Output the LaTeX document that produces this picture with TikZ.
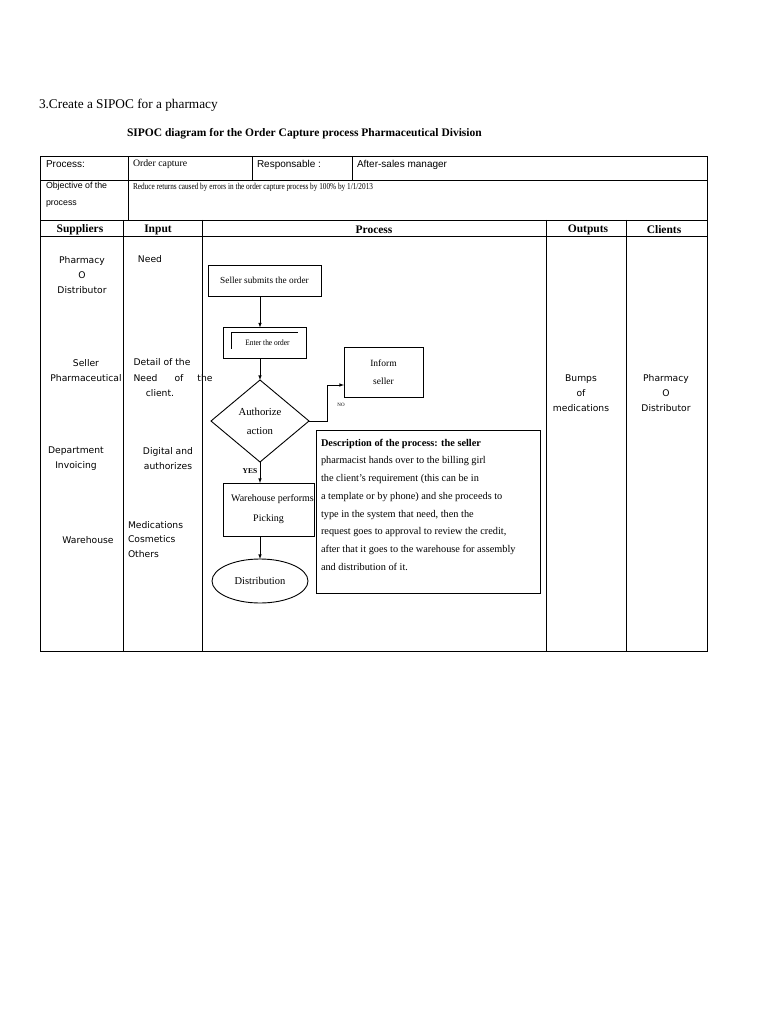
\documentclass[tikz,border=0pt]{standalone}
\usepackage{fontspec}
\usepackage{graphicx}
\setmainfont{Liberation Serif}
\newfontfamily\verdanafont{DejaVu Sans}
\newfontfamily\arialfont{Liberation Sans}
\usetikzlibrary{arrows,positioning,shapes}

\begin{document}
\begin{tikzpicture}
  [x=1pt,y=-1pt,
    every node/.style={inner sep=0pt,outer sep=0pt},
    grid/.style={line width=0.9pt},
    box/.style={rectangle,draw,line width=0.9pt,align=center,font=\fontsize{9}{12}\selectfont},
    cell/.style={align=center,font=\verdanafont\fontsize{9.2}{14.8}\selectfont},
    head/.style={font=\bfseries\fontsize{11.5}{12}\selectfont},
    info/.style={anchor=west,align=left,font=\arialfont\fontsize{10}{16.5}\selectfont},
    flow/.style={-latex,line width=0.6pt}]
  \useasboundingbox (0,0) rectangle (768,1024);
  % titles
  \node[anchor=west,font=\fontsize{13.3}{14}\selectfont] (task) at (39,105) {3.Create a SIPOC for a pharmacy};
  \node[anchor=west,font=\bfseries\fontsize{11.5}{13}\selectfont] (title) at (127,134) {SIPOC diagram for the Order Capture process Pharmaceutical Division};
  % table
  \draw[grid] (40.5,156.5) rectangle (707,651.5);
  \draw[grid] (40.5,180) -- (707,180);
  \draw[grid] (40.5,220) -- (707,220);
  \draw[grid] (40.5,236) -- (707,236);
  \draw[grid] (128.5,156.5) -- (128.5,220);
  \draw[grid] (252.5,156.5) -- (252.5,180);
  \draw[grid] (352,156.5) -- (352,180);
  \foreach \x in {123.5,202.5,546,626.5}
    \draw[grid] (\x,220) -- (\x,651.5);
  \node[info] (lproc) at (46,164.5) {Process:};
  \node[anchor=west,font=\fontsize{9.8}{12}\selectfont] (vproc) at (133,164.5) {Order capture};
  \node[info] (lresp) at (257,164.5) {Responsable :};
  \node[info] (vresp) at (357,164.5) {After-sales manager};
  \node[info,anchor=north west,font=\arialfont\fontsize{8.8}{16.5}\selectfont] (lobj) at (46,182.5) {Objective of the\\process};
  \node[anchor=west,font=\fontsize{9}{12}\selectfont] (vobj) at (133,187.5)
    {\resizebox{240pt}{\height}{Reduce returns caused by errors in the order capture process by 100\% by 1/1/2013}};
  % column heads
  \node[head] (hsup) at (80,229.5) {Suppliers};
  \node[head] (hinp) at (158,229.5) {Input};
  \node[head] (hproc) at (374,229.5) {Process};
  \node[head] (hout) at (588,229.5) {Outputs};
  \node[head] (hcli) at (664,229.5) {Clients};
  % suppliers
  \node[cell] (sup1) at (82,275) {Pharmacy\\O\\Distributor};
  \node[cell] (sup2) at (86,370.5) {Seller\\Pharmaceutical};
  \node[cell] (sup3) at (76,458.5) {Department\\Invoicing};
  \node[cell] (sup4) at (88,540) {Warehouse};
  % inputs
  \node[cell] (inp1) at (150,259) {Need};
  \node[cell] (inp2) at (162,362) {Detail of the};
  \node[cell,anchor=west] (inp3) at (133.5,378) {Need\hspace{17pt}of\hspace{14pt}the};
  \node[cell] (inp4) at (160,393) {client.};
  \node[cell] (inp5) at (168,458.5) {Digital and\\authorizes};
  \node[cell,anchor=west,align=left] (inp6) at (128,539.5) {Medications\\Cosmetics\\Others};
  % outputs and clients
  \node[cell] (out1) at (581,393) {Bumps\\of\\medications};
  \node[cell] (cli1) at (666,393) {Pharmacy\\O\\Distributor};
  % process flow
  \node[box,minimum width=113pt,minimum height=31pt,font=\fontsize{9.3}{10}\selectfont] (submit) at (264.5,280.5) {Seller submits the order};
  \node[box,minimum width=83pt,minimum height=31pt,font=\fontsize{8.2}{10}\selectfont] (enter) at (264.5,343) {\hspace{6pt}\scalebox{0.9}[1]{Enter the order}};
  \draw[line width=0.8pt] ([xshift=8pt,yshift=10pt]enter.south west) -- ([xshift=8pt,yshift=-4.5pt]enter.north west)
    -- ([xshift=-8pt,yshift=-4.5pt]enter.north east);
  \node[diamond,draw,line width=0.9pt,minimum width=98pt,minimum height=82pt,align=center,
    font=\fontsize{10.7}{19}\selectfont] (auth) at (260,421) {Authorize\\action};
  \node[box,minimum width=79pt,minimum height=50pt,font=\fontsize{9.5}{18}\selectfont] (inform) at (383.5,372) {Inform\\seller};
  \node[box,minimum width=91pt,minimum height=53pt,font=\fontsize{10}{20}\selectfont] (pick) at (268.5,509.5) {\hspace{8pt}Warehouse performs\\Picking};
  \node[ellipse,draw,line width=0.9pt,minimum width=96pt,minimum height=44pt,font=\fontsize{10.5}{12}\selectfont] (distr) at (260,581) {Distribution};
  \node[box,minimum width=224pt,minimum height=163pt] (desc) at (428,511.5) {};
  \node[anchor=north west,align=left,font=\fontsize{10.3}{17.7}\selectfont] (desctext) at (321,439)
    {\textbf{Description of the process: the seller}\\
     pharmacist hands over to the billing girl\\
     the client's requirement (this can be in\\
     a template or by phone) and she proceeds to\\
     type in the system that need, then the\\
     request goes to approval to review the credit,\\
     after that it goes to the warehouse for assembly\\
     and distribution of it.};
  \coordinate (nobend) at (327,385);
  \foreach \from/\to in {submit/enter,enter/auth,auth/pick,pick/distr}
    \draw[flow] (\from.south -| 260,0) -- (\to.north -| 260,0);
  \draw[flow] (auth.east) -| (nobend) -- (nobend -| inform.west);
  \node[font=\fontsize{5}{6}\selectfont] (no) at (341,405) {NO};
  \node[font=\bfseries\fontsize{7.5}{9}\selectfont] (yes) at (250,471) {YES};
\end{tikzpicture}
\end{document}
